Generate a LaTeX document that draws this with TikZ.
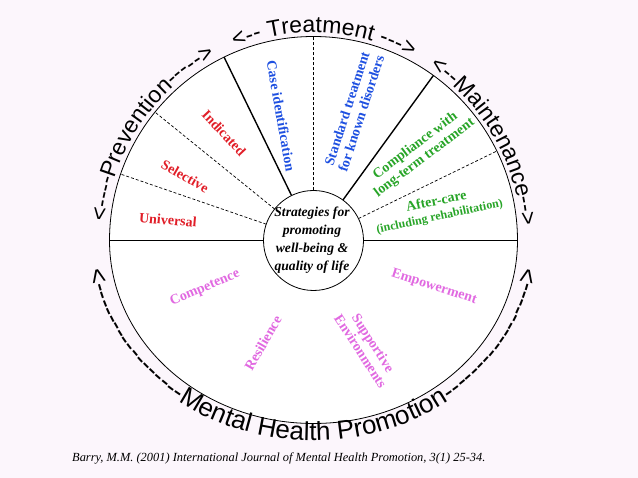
\documentclass[tikz,border=0pt]{standalone}
\usepackage{fontspec}
\setmainfont{Liberation Serif}
\newfontfamily\arcfont{Liberation Sans}
\usetikzlibrary{decorations.text}
\definecolor{bgpink}{RGB}{252,246,252}
\definecolor{lblred}{RGB}{225,30,40}
\definecolor{lblblue}{RGB}{30,80,225}
\definecolor{lblgreen}{RGB}{40,165,40}
\definecolor{lblpink}{RGB}{225,105,225}
\begin{document}
\begin{tikzpicture}[x=1pt,y=1pt,
  wlabel/.style={font=\fontsize{14}{15}\selectfont\bfseries, align=center, inner sep=0pt},
  solidspoke/.style={line width=1.4pt},
  dashspoke/.style={line width=0.7pt, dash pattern=on 3pt off 2pt},
  arctext/.style={decorate, decoration={text along path, text align=center, text={#1}}}]
\useasboundingbox (0,0) rectangle (638,478);
\fill[bgpink] (0,0) rectangle (638,478);
\coordinate (C) at (313.5,237.5);
% outer shape
\path[fill=white,draw=black,line width=0.8pt] ([shift={(180:204)}]C) arc[start angle=180,end angle=0,radius=204]
  arc[start angle=0,end angle=-180,x radius=204,y radius=183] -- cycle;
% spokes
\draw[line width=1.6pt] ([shift={(180:204)}]C) -- ([shift={(180:50)}]C);
\draw[line width=1.6pt] ([shift={(0:50)}]C) -- ([shift={(0:204)}]C);
\draw[solidspoke] ([shift={(116:50)}]C) -- ([shift={(116:204)}]C);
\draw[solidspoke] ([shift={(54:50)}]C) -- ([shift={(54:204)}]C);
\draw[dashspoke] ([shift={(90:50)}]C) -- ([shift={(90:204)}]C);
\draw[dashspoke] ([shift={(141:50)}]C) -- ([shift={(141:204)}]C);
\draw[dashspoke] ([shift={(161:50)}]C) -- ([shift={(161:204)}]C);
\draw[dashspoke] ([shift={(26:50)}]C) -- ([shift={(26:204)}]C);
% hub
\node[circle, draw, fill=white, minimum size=100pt, inner sep=0pt, line width=0.8pt] (hub) at (C) {};
\node[font=\fontsize{13.6}{18.2}\selectfont\bfseries\itshape, align=center, inner sep=0pt] (hubtext) at (312,238)
  {Strategies for\\promoting\\well-being \&\\quality of life};
% arc texts
\path[arctext={|\arcfont\fontsize{23}{23}\selectfont|<----Prevention----->}]
  ([shift={(178:208)}]C) arc[start angle=178, end angle=115, radius=208];
\path[arctext={|\arcfont\fontsize{23}{23}\selectfont|<-- Treatment --->}]
  ([shift={(115:208)}]C) arc[start angle=115, end angle=59, radius=208];
\path[arctext={|\arcfont\fontsize{23}{23}\selectfont|<--Maintenance-->}]
  ([shift={(58:208)}]C) arc[start angle=58, end angle=2, radius=208];
\path[arctext={|\arcfont\fontsize{26}{26}\selectfont|<-----------------Mental Health Promotion----------------->}]
  ([shift={(182:227 and 200)}]C) arc[start angle=182, end angle=358, x radius=227, y radius=200];
% wedge labels
\node[wlabel, text=lblred, rotate=-5] (univ) at (168,258) {Universal};
\node[wlabel, text=lblred, rotate=-30] (sel) at (185,302) {Selective};
\node[wlabel, text=lblred, rotate=-47] (ind) at (224,345) {Indicated};
\node[wlabel, text=lblblue, rotate=-80] (case) at (281,362) {Case identification};
\node[wlabel, text=lblblue, rotate=72] (std) at (354,367) {Standard treatment\\for known disorders};
\node[wlabel, text=lblgreen, rotate=37] (comp) at (420,326) {Compliance with\\long-term treatment};
\node[wlabel, text=lblgreen, rotate=12] (after) at (438,269) {After-care\\{\fontsize{12}{13}\selectfont (including rehabilitation)}};
\node[wlabel, text=lblpink, rotate=23] (compet) at (205,190) {Competence};
\node[wlabel, text=lblpink, rotate=60] (resil) at (263,135) {Resilience};
\node[wlabel, text=lblpink, rotate=-57] (supp) at (367,131) {Supportive\\Environments};
\node[wlabel, text=lblpink, rotate=-18] (empow) at (434,191) {Empowerment};
% citation
\node[anchor=west, font=\itshape\fontsize{12.4}{14}\selectfont, inner sep=0pt] (cite) at (72,20)
  {Barry, M.M. (2001) International Journal of Mental Health Promotion, 3(1) 25-34.};
\end{tikzpicture}
\end{document}
